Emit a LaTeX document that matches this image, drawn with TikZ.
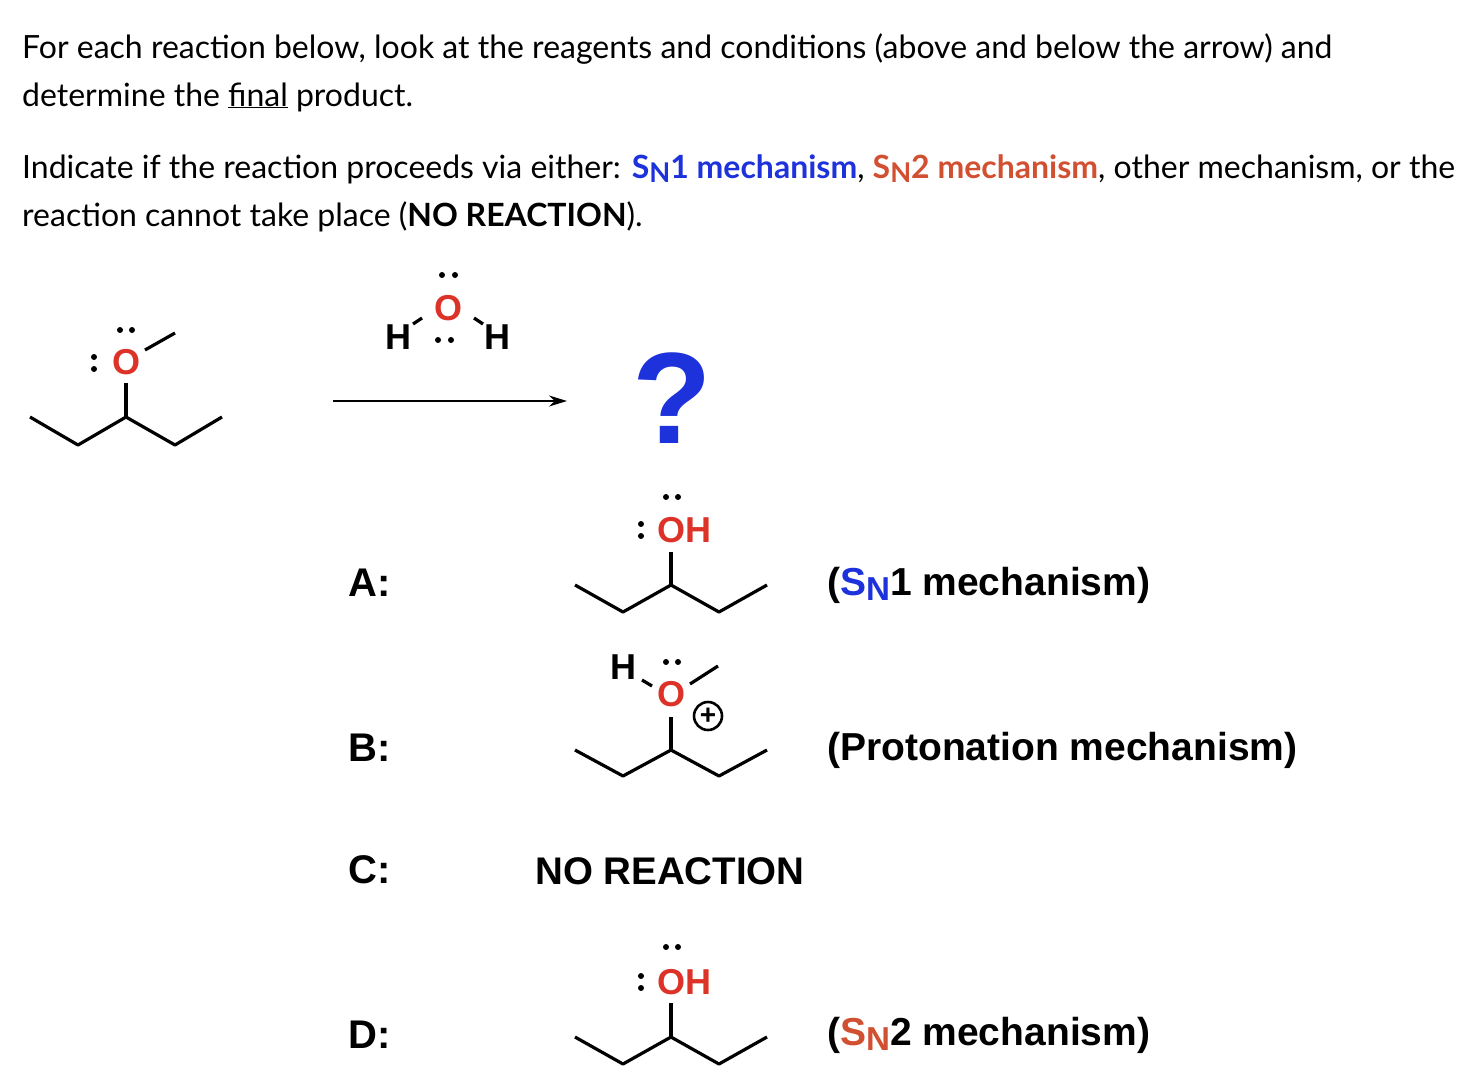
\documentclass[tikz,border=0pt]{standalone}
\usepackage{fontspec}
\setmainfont{Lato}
\newfontfamily\arial{Liberation Sans}
\usetikzlibrary{arrows.meta}
\newcommand{\subN}{\raisebox{-0.28ex}{\scalebox{0.85}{N}}}
\begin{document}
\begin{tikzpicture}[x=1pt,y=-1pt,
  bond/.style={line width=3.2pt},
  txt/.style={anchor=west,inner sep=0,font=\fontsize{32}{36}\selectfont},
  lab/.style={inner sep=0,font=\arial\bfseries\fontsize{40}{42}\selectfont},
  mech/.style={inner sep=0,anchor=west,font=\arial\bfseries\fontsize{39}{42}\selectfont},
  atom/.style={inner sep=0,font=\arial\bfseries\fontsize{36}{40}\selectfont},
  dot/.style={fill=black,circle,inner sep=0,minimum size=6pt}]
\definecolor{snone}{RGB}{30,50,220}
\definecolor{sntwo}{RGB}{210,80,50}
\definecolor{ored}{RGB}{220,50,40}
\useasboundingbox (0,0) rectangle (1482,1076);
\node[txt] (l1) at (22,49) {For each reaction below, look at the reagents and conditions (above and below the arrow) and};
\node[txt] (l2) at (22,97) {determine the \underline{final} product.};
\node[txt] (l3) at (22,169) {Indicate if the reaction proceeds via either: {\bfseries\color{snone}S\subN1 mechanism}, {\bfseries\color{sntwo}S\subN2 mechanism}, other mechanism, or the};
\node[txt] (l4) at (22,217) {reaction cannot take place ({\bfseries NO REACTION}).};
% starting material
\node[atom,text=ored] (o1) at (126,362) {O};
\draw[bond,line join=round] (30,417) -- (78,445) -- (126,417) -- (175,445) -- (222,417);
\draw[bond] (126,383) -- (126,417);
\draw[bond] (145,350) -- (175,333);
\node[dot] at (120,330) {}; \node[dot] at (132,330) {};
\node[dot] at (94,357) {}; \node[dot] at (94,369) {};
% water
\node[atom,text=ored] (o2) at (448,308) {O};
\node[atom] (h1) at (398,337) {H};
\node[atom] (h2) at (497,337) {H};
\draw[bond] (413,324) -- (422,318);
\draw[bond] (474,318) -- (483,324);
\node[dot] at (442,275) {}; \node[dot] at (455,275) {};
\node[dot] at (438,340) {}; \node[dot] at (451,340) {};
\coordinate (as) at (333,401); \coordinate (ae) at (567,401);
\draw[line width=1.6pt,-{Stealth[length=18pt,width=11pt]}] (as) -- (ae);
\node[inner sep=0,text=snone,font=\arial\bfseries\fontsize{130}{130}\selectfont] (q) at (672,398) {?};
% labels
\node[lab] (A) at (370,583) {A:};
\node[lab] (B) at (370,748) {B:};
\node[lab] (C) at (370,870) {C:};
\node[lab] (D) at (370,1035) {D:};
% A
\node[atom,text=ored] (oa) at (684,530) {OH};
\node[dot] at (641,524) {}; \node[dot] at (641,536) {};
\node[dot] at (666,497) {}; \node[dot] at (678,497) {};
\draw[bond] (671,552) -- (671,585);
\draw[bond,line join=round] (575,585) -- (623,612) -- (671,585) -- (719,612) -- (767,585);
\node[mech] (ma) at (827,585) {({\color{snone}S\subN}1 mechanism)};
% B
\node[atom,text=ored] (ob) at (671,694) {O};
\node[atom] (hb) at (623,667) {H};
\draw[bond] (642,680) -- (652,686);
\draw[bond] (690,684) -- (718,666);
\node[dot] at (666,662) {}; \node[dot] at (678,662) {};
\node[draw,circle,line width=2.6pt,minimum size=28pt,inner sep=0,font=\arial\bfseries\fontsize{28}{28}\selectfont] (pl) at (708,716) {+};
\draw[bond] (671,717) -- (671,750);
\draw[bond,line join=round] (575,750) -- (623,776) -- (671,750) -- (719,776) -- (767,750);
\node[mech] (mb) at (827,750) {(Protonation mechanism)};
% C
\node[lab,font=\arial\bfseries\fontsize{38.5}{42}\selectfont] (nr) at (670,871) {NO REACTION};
% D
\node[atom,text=ored] (od) at (684,982) {OH};
\node[dot] at (641,976) {}; \node[dot] at (641,988) {};
\node[dot] at (666,947) {}; \node[dot] at (678,947) {};
\draw[bond] (671,1003) -- (671,1037);
\draw[bond,line join=round] (575,1037) -- (623,1064) -- (671,1037) -- (719,1064) -- (767,1037);
\node[mech] (md) at (827,1035) {({\color{sntwo}S\subN}2 mechanism)};
\end{tikzpicture}
\end{document}
